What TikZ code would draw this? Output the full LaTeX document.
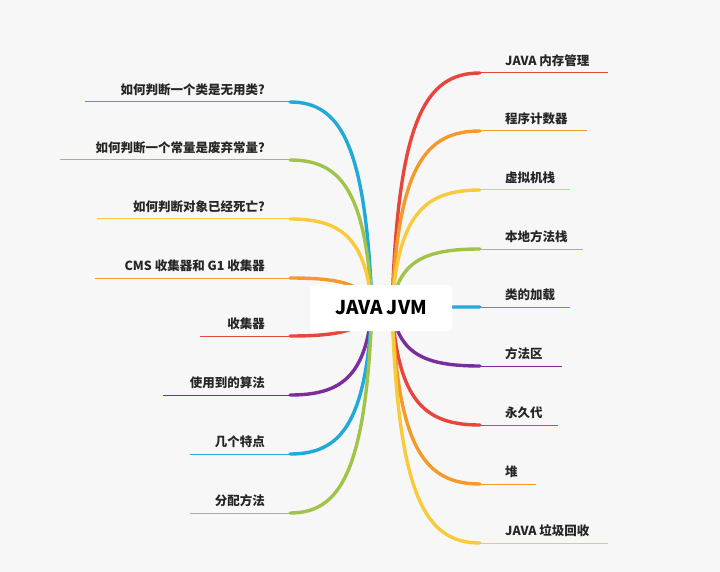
\documentclass[tikz,border=0pt]{standalone}
\usepackage{fontspec}
\newfontfamily\cjk{Noto Sans CJK SC}
\begin{document}
\begin{tikzpicture}[x=1pt,y=-1pt,
  lbl/.style={font=\cjk\bfseries\fontsize{12.5}{14}\selectfont, text=black!85, inner sep=1pt},
  br/.style={line width=3.4pt, line cap=round},
  ul/.style={line width=1pt}]
\definecolor{cR}{HTML}{E8453C}\definecolor{cO}{HTML}{F39A2B}
\definecolor{cY}{HTML}{F9CB3C}\definecolor{cG}{HTML}{A0C44A}
\definecolor{cB}{HTML}{1FAAD8}\definecolor{cP}{HTML}{7B2D9B}
\fill[black!3] (0,0) rectangle (720,572);
\useasboundingbox (0,0) rectangle (720,572);
% right
\foreach \y/\e/\c/\t [count=\i] in {73/608/cR/JAVA 内存管理,131/587/cO/程序计数器,190/570/cY/虚拟机栈,249/583/cG/本地方法栈,307/570/cB/类的加载,366/562/cP/方法区,425/558/cR/永久代,484/536/cO/堆,543/608/cY/JAVA 垃圾回收}{
  \coordinate (rs\i) at (392,308);
  \coordinate (re\i) at (480,\y);
  \coordinate (rf\i) at (\e,\y);
  \draw[br,\c] (rs\i) .. controls (398,{308+0.8*(\y-308)}) and (425,\y) .. (re\i);
  \draw[ul,\c] (re\i) -- (rf\i);
  \node[lbl,anchor=south west] (rt\i) at (504,\y-5) {\t};
}
% left
\foreach \y/\s/\c/\t [count=\i] in {102/85/cB/如何判断一个类是无用类?,160/60/cG/如何判断一个常量是废弃常量?,219/97/cY/如何判断对象已经死亡?,278/95/cO/CMS 收集器和 G1 收集器,336/200/cR/收集器,395/163/cP/使用到的算法,454/190/cB/几个特点,513/190/cG/分配方法}{
  \coordinate (ls\i) at (372,308);
  \coordinate (le\i) at (290,\y);
  \coordinate (lf\i) at (\s,\y);
  \draw[br,\c] (ls\i) .. controls (366,{308+0.8*(\y-308)}) and (340,\y) .. (le\i);
  \draw[ul,\c] (le\i) -- (lf\i);
  \node[lbl,anchor=south east] (lt\i) at (266,\y-5) {\t};
}
\node[fill=white, rounded corners=4pt, minimum width=142pt, minimum height=46pt,
  font=\cjk\bfseries\fontsize{19}{22}\selectfont, text=black] (c) at (381,308) {JAVA JVM};
\end{tikzpicture}
\end{document}
